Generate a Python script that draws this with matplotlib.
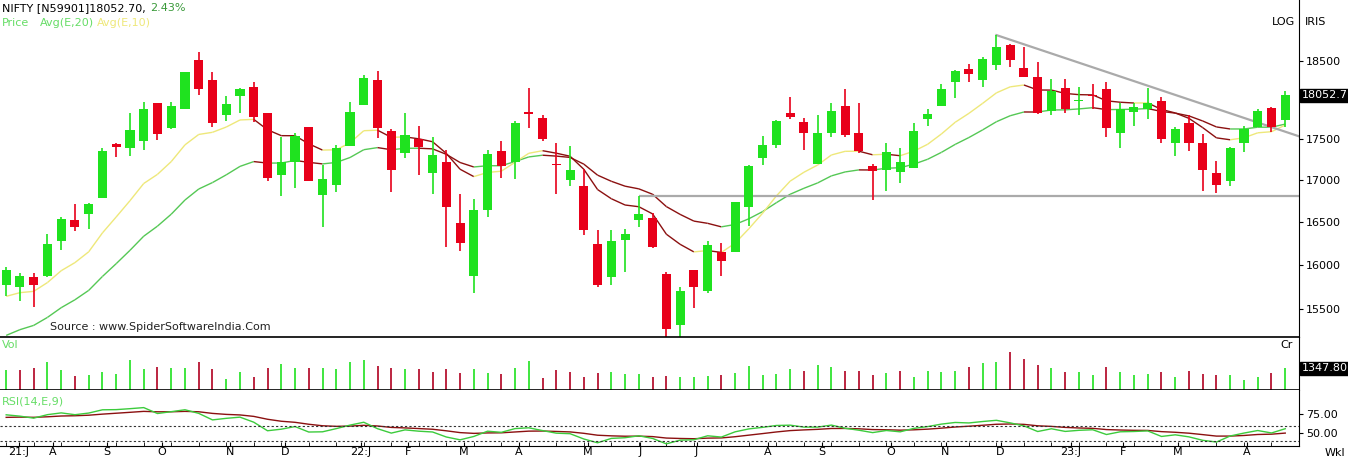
import numpy as np
import matplotlib
matplotlib.use('Agg')
import matplotlib.pyplot as plt
from matplotlib.collections import LineCollection

# weekly NIFTY candles, Jul 2021 .. Apr 2023
opens = [15767, 15755, 15860, 15871, 16278, 16524, 16585, 16781, 17436, 17383,
         17474, 17961, 17641, 17884, 18512, 18256, 17807, 18051, 18166, 17833,
         17053, 17211, 17654, 16817, 16939, 17409, 17935, 18256, 17602, 17330,
         17500, 17079, 17211, 16488, 15871, 16634, 17356, 17211, 17846, 17769,
         17198, 17000, 16927, 16244, 15860, 16290, 16524, 16549, 15894, 15328,
         15941, 15709, 16151, 16151, 16671, 17264, 17422, 17833, 17718, 17198,
         17577, 17922, 17577, 17172, 17119, 17092, 17145, 17756, 17922, 18230,
         18397, 18256, 18448, 18717, 18410, 18294, 17858, 18154, 17987, 18055,
         18141, 17577, 17846, 17884, 17987, 17449, 17705, 17449, 17079, 16988,
         17449, 17654, 17897, 17743]
highs = [15976, 15906, 15906, 16360, 16561, 16707, 16720, 17383, 17449, 17833,
         17974, 17961, 17974, 18358, 18614, 18358, 18051, 18154, 18230, 17833,
         17526, 17577, 17654, 17185, 17422, 17974, 18320, 18371, 17628, 17833,
         17666, 17526, 17370, 16829, 16768, 17370, 17474, 17730, 18154, 17807,
         17449, 17409, 17132, 16406, 16406, 16418, 16805, 16598, 15918, 15755,
         15941, 16278, 16255, 16732, 17185, 17538, 17743, 18038, 17769, 17807,
         17961, 18141, 17961, 17198, 17449, 17383, 17705, 17884, 18205, 18384,
         18461, 18551, 18845, 18730, 18691, 18486, 18269, 18269, 18166, 18205,
         18230, 17961, 17961, 18154, 18038, 17654, 17807, 17564, 17224, 17396,
         17666, 17884, 17910, 18115]
lows = [15651, 15593, 15523, 15860, 16174, 16394, 16418, 16781, 17277, 17290,
        17370, 17488, 17628, 17884, 18064, 17654, 17730, 17833, 17718, 16988,
        16805, 16903, 16988, 16441, 16854, 17409, 17935, 17513, 16854, 17264,
        17053, 16829, 16209, 16162, 15686, 16561, 17026, 17013, 17641, 17474,
        16829, 16927, 16348, 15755, 15767, 15918, 16441, 16197, 15178, 15190,
        15512, 15686, 15871, 16151, 16452, 17185, 17383, 17756, 17370, 17198,
        17526, 17526, 17330, 16756, 16866, 16964, 17145, 17666, 17922, 18013,
        18230, 18166, 18384, 18422, 18294, 17820, 17807, 17833, 17807, 17884,
        17526, 17383, 17666, 17756, 17449, 17290, 17356, 16866, 16842, 16927,
        17343, 17654, 17590, 17654]
closes = [15941, 15871, 15767, 16244, 16537, 16441, 16707, 17356, 17396, 17615,
          17884, 17564, 17922, 18358, 18141, 17705, 17948, 18141, 17782, 17026,
          17211, 17538, 16988, 17013, 17383, 17846, 18282, 17641, 17119, 17551,
          17396, 17304, 16671, 16255, 16634, 17317, 17172, 17705, 17820, 17500,
          17185, 17119, 16406, 15778, 16278, 16360, 16585, 16209, 15282, 15709,
          15755, 16232, 16046, 16732, 17172, 17422, 17730, 17782, 17577, 17577,
          17858, 17551, 17356, 17106, 17343, 17211, 17602, 17820, 18141, 18371,
          18333, 18525, 18691, 18512, 18294, 17833, 18115, 17884, 17992, 18045,
          17641, 17884, 17910, 17961, 17500, 17628, 17449, 17119, 16939, 17383,
          17628, 17858, 17654, 18052.7]
volumes = [1242, 1242, 1387, 1760, 1242, 869, 932, 1139, 973, 1863,
           1283, 1408, 1387, 1366, 1760, 1283, 662, 1139, 787, 1387,
           1594, 1346, 1387, 1346, 1283, 1760, 1863, 1490, 1346, 1283,
           1283, 1139, 1283, 1035, 1283, 1035, 973, 1346, 1801, 725,
           1242, 1139, 828, 1076, 1139, 973, 973, 787, 869,
           828, 787, 890, 932, 1035, 1511, 932, 994, 1304, 1201,
           1573, 1408, 1159, 1201, 932, 1056, 1201, 787, 1159, 1097,
           1201, 1408, 1656, 1718, 2339, 1925, 1573, 1366, 1097, 1097,
           952, 1408, 1097, 932, 994, 1097, 828, 1159, 994, 952,
           952, 621, 828, 1035, 1347.8]

month_pos = [0.9, 3.4, 7.3, 11.3, 16.3, 20.3, 25.8, 29.2, 33.3, 37.3, 42.3,
             46.1, 50.2, 55.4, 59.3, 64.3, 68.3, 72.3, 77.4, 81.2, 85.2, 90.2]
month_lbl = ['21:J', 'A', 'S', 'O', 'N', 'D', '22:J', 'F', 'M', 'A', 'M',
             'J', 'J', 'A', 'S', 'O', 'N', 'D', '23:J', 'F', 'M', 'A']

# seeds for the averages (values where the lines enter the chart)
ema10_seed, ema20_seed = 15580, 15140
rsi_gain_seed, rsi_loss_seed, rsi_sig_seed = 170.0, 62.0, 70.0

# trend lines
trend_pts = ([72, 94.6], [18845, 17500])
support_lvl, support_from = 16805, 46

GREEN = '#1FE21F'
RED = '#E8001A'
BROWN = '#8B1010'
FS = 8

W, H = 1348, 462
closes_a = np.array(closes)
n = len(closes)
xs = np.arange(n)


def ema(vals, period, seed):
    k = 2.0 / (period + 1)
    out, prev = [], seed
    for v in vals:
        prev = prev + k * (v - prev)
        out.append(prev)
    return np.array(out)


def rsi(vals, period, g0, l0):
    g, l = g0, l0
    out = []
    prev = vals[0] - (g0 - l0)
    for v in vals:
        d = v - prev
        g = (g * (period - 1) + max(d, 0)) / period
        l = (l * (period - 1) + max(-d, 0)) / period
        out.append(100 - 100 / (1 + g / l))
        prev = v
    return np.array(out)


def px_axes(x0, y0, x1, y1):
    return fig.add_axes([x0 / W, 1 - y1 / H, (x1 - x0) / W, (y1 - y0) / H])


def colored_line(ax, y, up_col, dn_col):
    segs, cols = [], []
    for i in range(len(y) - 1):
        segs.append([(xs[i], y[i]), (xs[i + 1], y[i + 1])])
        cols.append(up_col if closes_a[i + 1] >= y[i + 1] else dn_col)
    ax.add_collection(LineCollection(segs, colors=cols, linewidths=1.0, zorder=1))


fig = plt.figure(figsize=(W / 100, H / 100), dpi=100)
plt.rcParams['font.family'] = 'DejaVu Sans'
xlim = (-0.45, 94.0)

# ---- price panel
ax = px_axes(0, 0, 1299, 337)
ax.set_yscale('log')
ax.set_ylim(15199, 19322)
ax.set_xlim(*xlim)
for i in range(n):
    up = closes[i] >= opens[i]
    c = GREEN if up else RED
    ax.vlines(i, lows[i], highs[i], color=c, lw=1.2, zorder=3)
    lo, hi = min(opens[i], closes[i]), max(opens[i], closes[i])
    if hi - lo < 8:
        hi = lo + 8
    ax.bar(i, hi - lo, bottom=lo, width=0.66, color=c, zorder=4, linewidth=0)
colored_line(ax, ema(closes, 20, ema20_seed), '#55C855', BROWN)
colored_line(ax, ema(closes, 10, ema10_seed), '#EEE87A', BROWN)
ax.plot(trend_pts[0], trend_pts[1], color='#AAAAAA', lw=1.6, zorder=2)
ax.hlines(support_lvl, support_from, xlim[1], color='#AAAAAA', lw=1.6, zorder=2)
ax.yaxis.tick_right()
ticks = [15500, 16000, 16500, 17000, 17500, 18500]
ax.set_yticks(ticks)
ax.set_yticklabels([str(t) for t in ticks])
ax.yaxis.set_minor_locator(plt.NullLocator())
ax.tick_params(axis='y', labelsize=FS, length=3, pad=2)
ax.set_xticks([])
for s in ['top', 'left']:
    ax.spines[s].set_visible(False)
ax.annotate('18052.7', xy=(1.0, closes[-1]), xycoords=('axes fraction', 'data'),
            xytext=(2, 0), textcoords='offset points', va='center', ha='left',
            fontsize=FS, color='white', annotation_clip=False,
            bbox=dict(boxstyle='square,pad=0.15', fc='black', ec='black'))
ax.text(50 / 1299, 1 - 327 / 337, 'Source : www.SpiderSoftwareIndia.Com',
        transform=ax.transAxes, fontsize=FS, color='#222222', va='center')

fig.text(2 / W, 1 - 8 / H, 'NIFTY [N59901]18052.70,', fontsize=FS, va='center')
fig.text(150 / W, 1 - 8 / H, '2.43%', fontsize=FS, va='center', color='#3A9A3A')
fig.text(2 / W, 1 - 23 / H, 'Price', fontsize=FS, va='center', color='#66DD66')
fig.text(40 / W, 1 - 23 / H, 'Avg(E,20)', fontsize=FS, va='center', color='#66DD66')
fig.text(97 / W, 1 - 23 / H, 'Avg(E,10)', fontsize=FS, va='center', color='#EEE87A')
fig.text(1272 / W, 1 - 22 / H, 'LOG', fontsize=FS, va='center')
fig.text(1305 / W, 1 - 22 / H, 'IRIS', fontsize=FS, va='center')

# ---- volume panel
axv = px_axes(0, 337, 1299, 390)
axv.set_xlim(*xlim)
axv.set_ylim(0, 3300)
vcol = [GREEN] + [GREEN if closes[i] >= closes[i - 1] else '#B00020' for i in range(1, n)]
axv.vlines(xs, 0, volumes, colors=vcol, lw=1.2)
axv.set_xticks([])
axv.set_yticks([])
axv.spines['left'].set_visible(False)
axv.spines['top'].set_linewidth(1.2)
axv.spines['bottom'].set_linewidth(1.2)
axv.text(2 / 1299, 0.85, 'Vol', transform=axv.transAxes, fontsize=FS, color='#66DD66', va='center')
axv.text(1280 / 1299, 0.85, 'Cr', transform=axv.transAxes, fontsize=FS, va='center')
axv.annotate('1347.80', xy=(1.0, volumes[-1]), xycoords=('axes fraction', 'data'),
             xytext=(2, 0), textcoords='offset points', va='center', ha='left',
             fontsize=FS, color='white', annotation_clip=False,
             bbox=dict(boxstyle='square,pad=0.15', fc='black', ec='black'))

# ---- RSI panel
axr = px_axes(0, 390, 1299, 446)
axr.set_xlim(*xlim)
axr.set_ylim(33, 107)
r = rsi(closes, 14, rsi_gain_seed, rsi_loss_seed)
axr.plot(xs, ema(r, 9, rsi_sig_seed), color=BROWN, lw=1.0)
axr.plot(xs, r, color='#3CCB3C', lw=1.0)
axr.axhline(60, color='#333333', lw=0.8, ls=(0, (2, 2)))
axr.axhline(40, color='#333333', lw=0.8, ls=(0, (2, 2)))
axr.yaxis.tick_right()
axr.set_yticks([50, 75])
axr.set_yticklabels(['50.00', '75.00'])
axr.tick_params(axis='y', labelsize=FS, length=3, pad=2)
axr.set_xticks(month_pos)
axr.set_xticklabels(month_lbl)
axr.set_xticks(xs[::2], minor=True)
axr.tick_params(axis='x', which='both', direction='in', length=3, labelsize=FS, pad=1)
axr.spines['top'].set_visible(False)
axr.spines['left'].set_visible(False)
axr.text(2 / 1299, 0.8, 'RSI(14,E,9)', transform=axr.transAxes, fontsize=FS, color='#66DD66', va='center')
fig.text(1325 / W, 1 - 453 / H, 'Wkl', fontsize=FS, va='center')

fig.savefig('out.png', dpi=100)
